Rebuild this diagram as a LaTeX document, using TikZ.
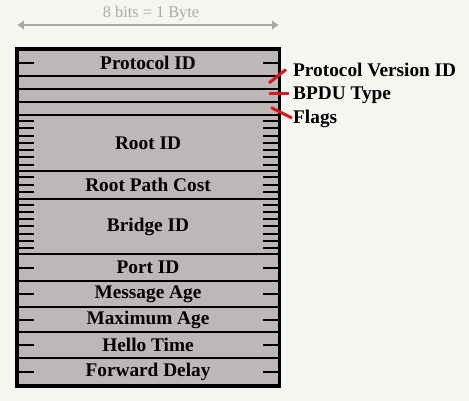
\documentclass[tikz,border=0pt]{standalone}
\usepackage{fontspec}
\setmainfont{Liberation Serif}
\usetikzlibrary{arrows.meta,calc}
\definecolor{bg}{HTML}{F4F6F1}
\definecolor{cell}{HTML}{BEB7B7}
\definecolor{rulegray}{HTML}{ABA9A4}
\definecolor{markred}{HTML}{DD1620}
\tikzset{
  field/.style={draw=black, line width=2pt, fill=cell, minimum width=261pt,
    inner sep=0pt, font=\bfseries\fontsize{19.3}{20}\selectfont},
  bytetick/.style={line width=2pt, line cap=butt},
  lab/.style={anchor=base west, inner sep=0pt, font=\bfseries\fontsize{19.3}{20}\selectfont},
  redline/.style={draw=markred, line width=3pt},
  frame/.style={draw=black, line width=3pt},
}
\newcommand\fld[5]{%
  \node[field, minimum height={#3-#2}] (#1) at (148,{(#2+#3)/2}) {#5};
  \ifnum#4>1
    \pgfmathtruncatemacro\nt{#4-1}%
    \foreach \k in {1,...,\nt} {
      \pgfmathsetmacro\fr{\k/#4}
      \draw[bytetick] ($(#1.north west)!\fr!(#1.south west)$) -- ++(17,0);
      \draw[bytetick] ($(#1.north east)!\fr!(#1.south east)$) -- ++(-17,0);
    }
  \fi
}
\begin{document}
\begin{tikzpicture}[x=1pt,y=-1pt]
\fill[bg] (0,0) rectangle (469,401);
\useasboundingbox (0,0) rectangle (469,401);
% width arrow
\node[text=rulegray, font=\fontsize{16.3}{17}\selectfont, inner sep=0pt] (wlabel) at (151,14) {8 bits = 1 Byte};
\coordinate (wl) at (17,25);
\coordinate (wr) at (279,25);
\draw[rulegray, line width=2pt, {Latex[length=7pt,width=10pt]}-{Latex[length=7pt,width=10pt]}] (wl) -- (wr);
% fields
\fld{pid}{50}{76}{2}{Protocol ID}
\fld{pvid}{76}{89}{1}{}
\fld{btype}{89}{102}{1}{}
\fld{flags}{102}{115}{1}{}
\fld{rid}{115}{171}{8}{Root ID}
\fld{rpc}{171}{199}{4}{Root Path Cost}
\fld{bid}{199}{254}{8}{Bridge ID}
\fld{portid}{254}{281}{2}{Port ID}
\fld{mage}{281}{307}{2}{Message Age}
\fld{maxage}{307}{332}{2}{Maximum Age}
\fld{hello}{332}{358}{2}{Hello Time}
\fld{fwd}{358}{385}{2}{Forward Delay}
\draw[frame] (pid.north west) rectangle (fwd.south east);
% side labels
\node[lab] (pvi) at (293,76.5) {Protocol Version ID};
\node[lab] (bpdu) at (293,99.5) {BPDU Type};
\node[lab] (flg) at (293,124) {Flags};
\coordinate (pvi-a) at (286,69.5);
\coordinate (pvi-b) at (269,83);
\coordinate (bpdu-a) at (289,94);
\coordinate (bpdu-b) at (269,94);
\coordinate (flg-a) at (292,118);
\coordinate (flg-b) at (271,107.5);
\draw[redline] (pvi-a) -- (pvi-b);
\draw[redline] (bpdu-a) -- (bpdu-b);
\draw[redline] (flg-a) -- (flg-b);
\end{tikzpicture}
\end{document}
